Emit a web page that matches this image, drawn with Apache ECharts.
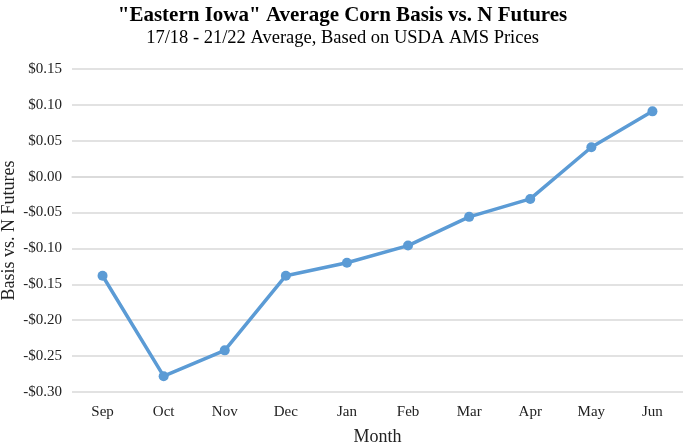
<!DOCTYPE html>
<html><head><meta charset="utf-8">
<script src="https://cdn.jsdelivr.net/npm/echarts@6/dist/echarts.min.js"></script>
<style>html,body{margin:0;padding:0;background:#fff}#c{width:685px;height:442px}</style>
</head><body><div id="c"></div>
<script>
const months = ["Sep","Oct","Nov","Dec","Jan","Feb","Mar","Apr","May","Jun"];
const basis = [-0.138, -0.278, -0.242, -0.138, -0.120, -0.096, -0.056, -0.031, 0.041, 0.091];
const yMin = -0.30, yMax = 0.15, yStep = 0.05;
const titleText = '"Eastern Iowa" Average Corn Basis vs. N Futures';
const subText = '17/18 - 21/22 Average, Based on USDA AMS Prices';
const font = '"Liberation Serif", "Times New Roman", serif';
const chart = echarts.init(document.getElementById('c'));
chart.setOption({
  animation: false,
  backgroundColor: '#fff',
  title: {
    text: titleText, subtext: subText, left: 'center', top: 0, itemGap: 3,
    textStyle: {fontFamily: font, fontWeight: 'bold', fontSize: 21, color: '#000'},
    subtextStyle: {fontFamily: font, fontSize: 18.5, color: '#000'}
  },
  grid: {left: 72, right: 2, top: 69, bottom: 50, containLabel: false, outerBoundsMode: 'none'},
  xAxis: {
    type: 'category', data: months, boundaryGap: true,
    name: 'Month', nameLocation: 'middle', nameGap: 36, nameMoveOverlap: false,
    nameTextStyle: {fontFamily: font, fontSize: 18, color: '#222'},
    axisLine: {lineStyle: {color: '#d9d9d9', width: 1.5}},
    axisTick: {show: false},
    axisLabel: {fontFamily: font, fontSize: 15, color: '#222', margin: 13}
  },
  yAxis: {
    type: 'value', min: yMin, max: yMax, interval: yStep,
    name: 'Basis vs. N Futures', nameLocation: 'middle', nameGap: 54, nameMoveOverlap: false,
    nameTextStyle: {fontFamily: font, fontSize: 18, color: '#222'},
    axisLine: {show: false}, axisTick: {show: false},
    splitLine: {lineStyle: {color: '#d9d9d9', width: 1.5}},
    axisLabel: {fontFamily: font, fontSize: 15, color: '#222', margin: 10,
      formatter: v => (v < -1e-9 ? '-$' : '$') + Math.abs(v).toFixed(2)}
  },
  series: [{
    type: 'line', data: basis, symbol: 'circle', symbolSize: 10,
    lineStyle: {color: '#5b9bd5', width: 3.5},
    itemStyle: {color: '#5b9bd5'}
  }]
});
</script></body></html>
